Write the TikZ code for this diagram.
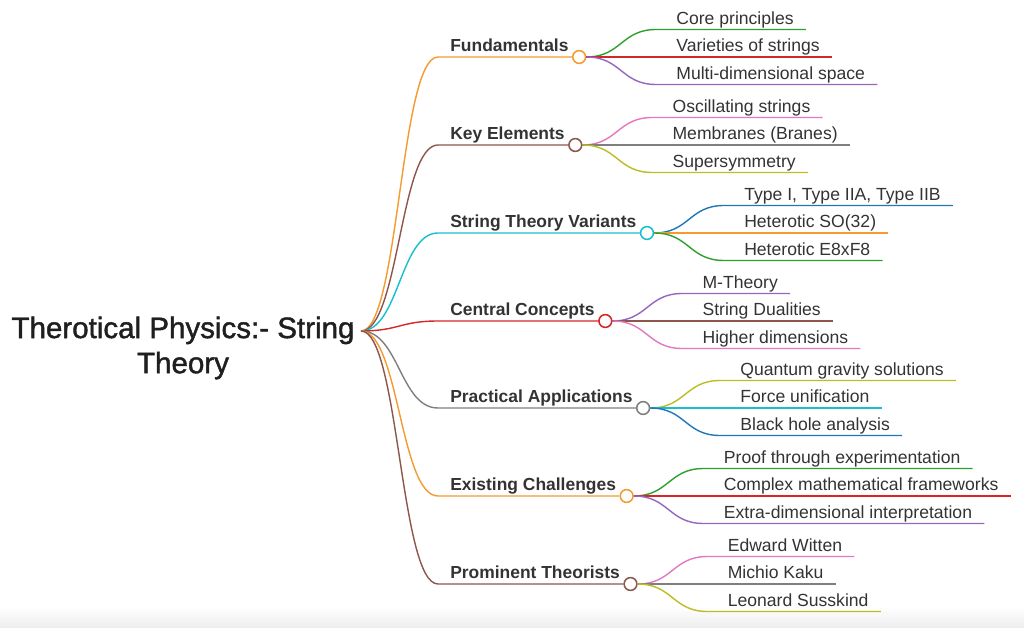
\documentclass[tikz,border=0pt]{standalone}
\usepackage{fontspec}
\setmainfont{Liberation Sans}
\newfontfamily\rootfont[RawFeature={embolden=1.4}]{Liberation Sans}
\usepackage{tikz}
\usetikzlibrary{positioning}
\definecolor{mapblue}{HTML}{1F77B4}
\definecolor{maporange}{HTML}{F59A2E}
\definecolor{mapgreen}{HTML}{2CA02C}
\definecolor{mapred}{HTML}{D62728}
\definecolor{mappurple}{HTML}{9467BD}
\definecolor{mapbrown}{HTML}{8C564B}
\definecolor{mappink}{HTML}{E377C2}
\definecolor{mapgray}{HTML}{7F7F7F}
\definecolor{mapolive}{HTML}{BCBD22}
\definecolor{mapcyan}{HTML}{17BECF}
\definecolor{maptext}{HTML}{333333}

\begin{document}
\begin{tikzpicture}[
  x=0.025cm, y=-0.025cm,
  rootlabel/.style={font=\rootfont\fontsize{21}{25}\selectfont, text=black!88, align=center},
  topic/.style={font=\bfseries\fontsize{12.4}{15}\selectfont, text=maptext, anchor=south west,
                inner xsep=0pt, inner ysep=1pt, text depth=2.5pt},
  leaf/.style={font=\fontsize{12.5}{15}\selectfont, text=maptext, anchor=south west,
               inner xsep=0pt, inner ysep=1pt, text depth=2.5pt},
  knot/.style={circle, draw=#1, fill=white, line width=1.1pt, minimum size=0.32cm, inner sep=0pt},
  link/.style={draw=#1, line width=1pt}
]
\useasboundingbox (0,0) rectangle (1024,628);
\shade[top color=white, bottom color=black!7] (0,606) rectangle (1024,628);

\node[rootlabel] (root) at (183,348) {Therotical Physics:- String\\Theory};
\coordinate (hub) at (361,331);

% Fundamentals
\node[topic] (fundtxt) at (450,57) {Fundamentals};
\node[knot=maporange, right=0.08cm of fundtxt.south east] (fund) {};
\draw[link=maporange] (hub) .. controls +(38,0) and +(-38,0) .. ([xshift=-0.3cm]fundtxt.south west) -- (fund);
\node[leaf] (fund1) at ([shift={(97,-27.5)}]fund) {Core principles};
\node[leaf] (fund2) at ([shift={(97,0)}]fund) {Varieties of strings};
\node[leaf] (fund3) at ([shift={(97,27.5)}]fund) {Multi-dimensional space};
\draw[link=mapgreen] (fund.east) .. controls +(35,0) and +(-35,0) .. ([xshift=-0.5cm]fund1.south west) -- ([xshift=0.3cm]fund1.south east);
\draw[link=mapred] (fund) -- ([xshift=0.3cm]fund2.south east);
\draw[link=mappurple] (fund.east) .. controls +(35,0) and +(-35,0) .. ([xshift=-0.5cm]fund3.south west) -- ([xshift=0.3cm]fund3.south east);

% Key Elements
\node[topic] (keytxt) at (450,145) {Key Elements};
\node[knot=mapbrown, right=0.08cm of keytxt.south east] (key) {};
\draw[link=mapbrown] (hub) .. controls +(38,0) and +(-38,0) .. ([xshift=-0.3cm]keytxt.south west) -- (key);
\node[leaf] (key1) at ([shift={(97,-27.5)}]key) {Oscillating strings};
\node[leaf] (key2) at ([shift={(97,0)}]key) {Membranes (Branes)};
\node[leaf] (key3) at ([shift={(97,27.5)}]key) {Supersymmetry};
\draw[link=mappink] (key.east) .. controls +(35,0) and +(-35,0) .. ([xshift=-0.5cm]key1.south west) -- ([xshift=0.3cm]key1.south east);
\draw[link=mapgray] (key) -- ([xshift=0.3cm]key2.south east);
\draw[link=mapolive] (key.east) .. controls +(35,0) and +(-35,0) .. ([xshift=-0.5cm]key3.south west) -- ([xshift=0.3cm]key3.south east);

% String Theory Variants
\node[topic] (vartxt) at (450,233) {String Theory Variants};
\node[knot=mapcyan, right=0.08cm of vartxt.south east] (var) {};
\draw[link=mapcyan] (hub) .. controls +(38,0) and +(-38,0) .. ([xshift=-0.3cm]vartxt.south west) -- (var);
\node[leaf] (var1) at ([shift={(97,-27.5)}]var) {Type I, Type IIA, Type IIB};
\node[leaf] (var2) at ([shift={(97,0)}]var) {Heterotic SO(32)};
\node[leaf] (var3) at ([shift={(97,27.5)}]var) {Heterotic E8xF8};
\draw[link=mapblue] (var.east) .. controls +(35,0) and +(-35,0) .. ([xshift=-0.5cm]var1.south west) -- ([xshift=0.3cm]var1.south east);
\draw[link=maporange] (var) -- ([xshift=0.3cm]var2.south east);
\draw[link=mapgreen] (var.east) .. controls +(35,0) and +(-35,0) .. ([xshift=-0.5cm]var3.south west) -- ([xshift=0.3cm]var3.south east);

% Central Concepts
\node[topic] (centtxt) at (450,321) {Central Concepts};
\node[knot=mapred, right=0.08cm of centtxt.south east] (cent) {};
\draw[link=mapred] (hub) .. controls +(38,0) and +(-38,0) .. ([xshift=-0.3cm]centtxt.south west) -- (cent);
\node[leaf] (cent1) at ([shift={(97,-27.5)}]cent) {M-Theory};
\node[leaf] (cent2) at ([shift={(97,0)}]cent) {String Dualities};
\node[leaf] (cent3) at ([shift={(97,27.5)}]cent) {Higher dimensions};
\draw[link=mappurple] (cent.east) .. controls +(35,0) and +(-35,0) .. ([xshift=-0.5cm]cent1.south west) -- ([xshift=0.3cm]cent1.south east);
\draw[link=mapbrown] (cent) -- ([xshift=0.3cm]cent2.south east);
\draw[link=mappink] (cent.east) .. controls +(35,0) and +(-35,0) .. ([xshift=-0.5cm]cent3.south west) -- ([xshift=0.3cm]cent3.south east);

% Practical Applications
\node[topic] (practxt) at (450,408) {Practical Applications};
\node[knot=mapgray, right=0.08cm of practxt.south east] (prac) {};
\draw[link=mapgray] (hub) .. controls +(38,0) and +(-38,0) .. ([xshift=-0.3cm]practxt.south west) -- (prac);
\node[leaf] (prac1) at ([shift={(97,-27.5)}]prac) {Quantum gravity solutions};
\node[leaf] (prac2) at ([shift={(97,0)}]prac) {Force unification};
\node[leaf] (prac3) at ([shift={(97,27.5)}]prac) {Black hole analysis};
\draw[link=mapolive] (prac.east) .. controls +(35,0) and +(-35,0) .. ([xshift=-0.5cm]prac1.south west) -- ([xshift=0.3cm]prac1.south east);
\draw[link=mapcyan] (prac) -- ([xshift=0.3cm]prac2.south east);
\draw[link=mapblue] (prac.east) .. controls +(35,0) and +(-35,0) .. ([xshift=-0.5cm]prac3.south west) -- ([xshift=0.3cm]prac3.south east);

% Existing Challenges
\node[topic] (chaltxt) at (450,496) {Existing Challenges};
\node[knot=maporange, right=0.08cm of chaltxt.south east] (chal) {};
\draw[link=maporange] (hub) .. controls +(38,0) and +(-38,0) .. ([xshift=-0.3cm]chaltxt.south west) -- (chal);
\node[leaf] (chal1) at ([shift={(97,-27.5)}]chal) {Proof through experimentation};
\node[leaf] (chal2) at ([shift={(97,0)}]chal) {Complex mathematical frameworks};
\node[leaf] (chal3) at ([shift={(97,27.5)}]chal) {Extra-dimensional interpretation};
\draw[link=mapgreen] (chal.east) .. controls +(35,0) and +(-35,0) .. ([xshift=-0.5cm]chal1.south west) -- ([xshift=0.3cm]chal1.south east);
\draw[link=mapred] (chal) -- ([xshift=0.3cm]chal2.south east);
\draw[link=mappurple] (chal.east) .. controls +(35,0) and +(-35,0) .. ([xshift=-0.5cm]chal3.south west) -- ([xshift=0.3cm]chal3.south east);

% Prominent Theorists
\node[topic] (theotxt) at (450,584) {Prominent Theorists};
\node[knot=mapbrown, right=0.08cm of theotxt.south east] (theo) {};
\draw[link=mapbrown] (hub) .. controls +(38,0) and +(-38,0) .. ([xshift=-0.3cm]theotxt.south west) -- (theo);
\node[leaf] (theo1) at ([shift={(97,-27.5)}]theo) {Edward Witten};
\node[leaf] (theo2) at ([shift={(97,0)}]theo) {Michio Kaku};
\node[leaf] (theo3) at ([shift={(97,27.5)}]theo) {Leonard Susskind};
\draw[link=mappink] (theo.east) .. controls +(35,0) and +(-35,0) .. ([xshift=-0.5cm]theo1.south west) -- ([xshift=0.3cm]theo1.south east);
\draw[link=mapgray] (theo) -- ([xshift=0.3cm]theo2.south east);
\draw[link=mapolive] (theo.east) .. controls +(35,0) and +(-35,0) .. ([xshift=-0.5cm]theo3.south west) -- ([xshift=0.3cm]theo3.south east);
\end{tikzpicture}
\end{document}
